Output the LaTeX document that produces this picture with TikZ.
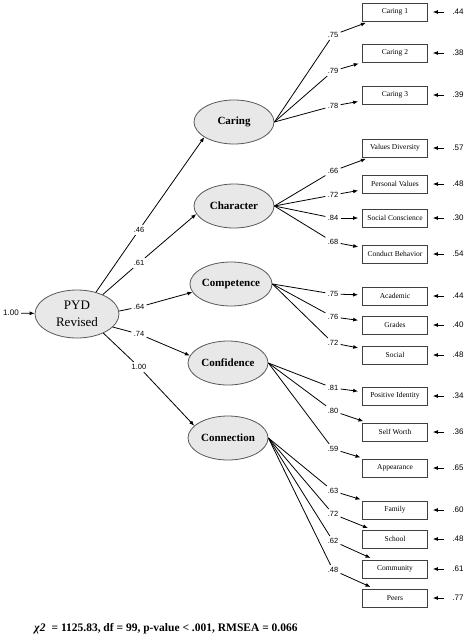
\documentclass[tikz,border=0pt]{standalone}
\usepackage{fontspec}
\setmainfont{Liberation Serif}
\newfontfamily\numfont{Liberation Sans}
\usetikzlibrary{shapes.geometric,arrows.meta}

\definecolor{latentfill}{HTML}{E8E8E8}
\tikzset{
  factor/.style={ellipse,draw=black!65,fill=latentfill,line width=0.8pt,
    minimum width=80pt,minimum height=44pt,inner sep=0pt,
    font=\bfseries\fontsize{11}{13}\selectfont},
  item/.style={draw=black!75,line width=0.8pt,minimum width=65pt,minimum height=18pt,
    inner sep=0pt,font=\fontsize{7.5}{9}\selectfont},
  coef/.style={inner sep=2pt,font=\numfont\fontsize{7.5}{9}\selectfont},
  errv/.style={inner sep=2pt,font=\numfont\fontsize{8}{9}\selectfont},
}

\begin{document}
\begin{tikzpicture}[x=1pt,y=-1pt,line width=0.8pt,>={Latex[length=5pt,width=4pt]}]
\useasboundingbox (0,0) rectangle (474,640);

% second order factor
\node[factor,fill=latentfill,font=\fontsize{13}{17}\selectfont,align=center,
  minimum width=84pt,minimum height=48pt] (pyd) at (77,314) {PYD\\Revised};
\node[errv] (pydvar) at (11,313) {1.00};
\draw[->] (pydvar) -- (pyd);

% first order factors
\node[factor] (caring) at (234,122) {Caring};
\node[factor] (character) at (234,206) {Character};
\node[factor] (competence) at (231,284) {Competence};
\node[factor] (confidence) at (228,363) {Confidence};
\node[factor] (connection) at (228,438) {Connection};

\foreach \f/\a/\b/\y/\w in {caring/49/207/230/.46, character/37/192/263/.61,
  competence/4/192/307/.64, confidence/340/169/334/.74, connection/324/160/367/1.00}
{
  \node[coef] (p\f) at (139,\y) {\w};
  \draw (pyd.\a) -- (p\f);
  \draw[->] (p\f) -- (\f.\b);
}

% indicators with error variances
\foreach \n/\y/\txt/\e in {c1/12/Caring 1/.44, c2/53/Caring 2/.38, c3/95/Caring 3/.39,
  h1/148/Values Diversity/.57, h2/184/Personal Values/.48, h3/218/Social Conscience/.30,
  h4/254/Conduct Behavior/.54, m1/296/Academic/.44, m2/325/Grades/.40, m3/355/Social/.48,
  f1/396/Positive Identity/.34, f2/432/Self Worth/.36, f3/468/Appearance/.65,
  n1/510/Family/.60, n2/539/School/.48, n3/569/Community/.61, n4/598/Peers/.77}
{
  \node[item] (\n) at (395,\y) {\txt};
  \node[errv] (e\n) at (458,\y) {\e};
  \draw[->,shorten <=6pt,shorten >=5pt] (e\n) -- (\n);
}

% factor loadings
\foreach \f/\n/\y/\w in {caring/c1/35/.75, caring/c2/71/.79, caring/c3/106/.78,
  character/h1/171/.66, character/h2/195/.72, character/h3/218/.84, character/h4/242/.68,
  competence/m1/294/.75, competence/m2/317/.76, competence/m3/343/.72,
  confidence/f1/388/.81, confidence/f2/411/.80, confidence/f3/449/.59,
  connection/n1/491/.63, connection/n2/514/.72, connection/n3/541/.62, connection/n4/570/.48}
{
  \node[coef] (w\n) at (333,\y) {\w};
  \draw (\f.east) -- (w\n);
  \draw[->,shorten >=4pt] (w\n) -- (\n);
}

% fit indices
\node[font=\bfseries\fontsize{11.5}{13}\selectfont] (fit) at (166,629)
  {\textit{χ2}\; = 1125.83, df = 99, p-value < .001, RMSEA = 0.066};
\end{tikzpicture}
\end{document}
